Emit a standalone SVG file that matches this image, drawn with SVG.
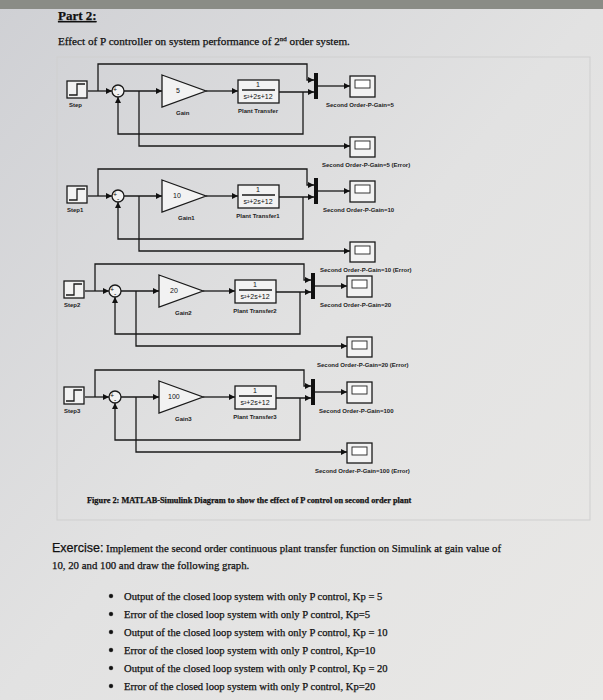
<svg xmlns="http://www.w3.org/2000/svg" width="603" height="700" viewBox="0 0 603 700">
<defs>
<linearGradient id="bg" x1="0" y1="0" x2="1" y2="1"><stop offset="0" stop-color="#cfd0d4"/><stop offset="0.5" stop-color="#e2e2e2"/><stop offset="1" stop-color="#e9e8e6"/></linearGradient>
<marker id="ar" viewBox="0 0 8 8" refX="8" refY="4" markerWidth="6" markerHeight="6" orient="auto" markerUnits="userSpaceOnUse"><path d="M0,0 L8,4 L0,8 z" fill="#111"/></marker>
<style>
.w{fill:none;stroke:#1a1a1a;stroke-width:1.3}
.a{marker-end:url(#ar)}
.blk{fill:#f2f2f2;stroke:#1a1a1a;stroke-width:1.3}
.lb{font-family:"Liberation Sans",Arial,sans-serif;font-size:6px;font-weight:bold;fill:#222}
.num{font-family:"Liberation Sans",Arial,sans-serif;font-size:7px;fill:#111}
.ser{font-family:"Liberation Serif","Times New Roman",serif;fill:#111;stroke:#111;stroke-width:0.25}
</style>
</defs>
<rect width="603" height="700" fill="url(#bg)"/>
<rect x="0" y="0" width="603" height="9" fill="#8a8c86"/>
<rect x="57" y="57" width="533" height="463" fill="none" stroke="#cfcfcf" stroke-width="1"/>
<text class="ser" x="58" y="20" font-size="13" font-weight="bold" text-decoration="underline">Part 2:</text>
<text class="ser" x="58" y="45" font-size="11.2">Effect of P controller on system performance of 2<tspan font-size="7" dy="-4">nd</tspan><tspan dy="4"> order system.</tspan></text>

<!-- Block 1 -->
<g transform="translate(0,91)">
 <g id="connectors1">
  <path class="w a" d="M88,0 H112"/>
  <path class="w a" d="M98,0 V-27 H307 V-11 H314"/>
  <path class="w a" d="M124,0 H162"/>
  <path class="w a" d="M206,0 H238"/>
  <path class="w a" d="M279,1 H314"/>
  <path class="w a" d="M303,1 V43 H118 V6"/>
  <path class="w a" d="M139,0 V55 H350"/>
  <path class="w a" d="M318,-5 H350"/>
 </g>
 <g id="step"><rect class="blk" x="67" y="-10" width="20" height="17"/><path class="w" d="M69,4 H77 V-7 H85"/><text class="lb" x="69" y="16">Step</text></g>
 <g id="sum"><circle class="blk" cx="118" cy="0" r="6"/><text class="num" x="113" y="1" font-size="6">+</text><text class="num" x="117" y="5" font-size="6">-</text></g>
 <g id="gain"><path class="blk" d="M162,-16 L206,0 L162,16 Z"/><text class="num" x="176" y="2">5</text><text class="lb" x="176" y="24">Gain</text></g>
 <g id="plant"><rect class="blk" x="238" y="-11" width="41" height="23"/><text class="num" x="258" y="-4" text-anchor="middle" font-size="6">1</text><path class="w" d="M242,-1 H275" stroke-width="0.8"/><text class="num" x="258" y="8" text-anchor="middle" font-size="6">s²+2s+12</text><text class="lb" x="258" y="22" text-anchor="middle">Plant Transfer</text></g>
 <g id="mux"><rect x="314" y="-18" width="4" height="26" fill="#111"/></g>
 <g id="scope"><rect class="blk" x="350" y="-15" width="25" height="21"/><rect x="355" y="-11" width="15" height="8" fill="#fff" stroke="#222" stroke-width="0.9"/><text class="lb" x="326" y="16">Second Order-P-Gain=5</text></g>
 <g id="scopeErr"><rect class="blk" x="350" y="46" width="25" height="20"/><rect x="355" y="50" width="15" height="8" fill="#fff" stroke="#222" stroke-width="0.9"/><text class="lb" x="322" y="76">Second Order-P-Gain=5 (Error)</text></g>
</g>

<!-- Block 2 -->
<g transform="translate(0,196)">
 <g id="connectors2">
  <path class="w a" d="M88,0 H112"/>
  <path class="w a" d="M98,0 V-27 H307 V-11 H314"/>
  <path class="w a" d="M124,0 H162"/>
  <path class="w a" d="M206,0 H238"/>
  <path class="w a" d="M279,1 H314"/>
  <path class="w a" d="M303,1 V43 H118 V6"/>
  <path class="w a" d="M139,0 V55 H350"/>
  <path class="w a" d="M318,-5 H350"/>
 </g>
 <g id="step1"><rect class="blk" x="67" y="-10" width="20" height="17"/><path class="w" d="M69,4 H77 V-7 H85"/><text class="lb" x="67" y="16">Step1</text></g>
 <g id="sum1"><circle class="blk" cx="118" cy="0" r="6"/><text class="num" x="113" y="1" font-size="6">+</text><text class="num" x="117" y="5" font-size="6">-</text></g>
 <g id="gain1"><path class="blk" d="M162,-16 L206,0 L162,16 Z"/><text class="num" x="173" y="2">10</text><text class="lb" x="178" y="24">Gain1</text></g>
 <g id="plant1"><rect class="blk" x="238" y="-11" width="41" height="23"/><text class="num" x="258" y="-4" text-anchor="middle" font-size="6">1</text><path class="w" d="M242,-1 H275" stroke-width="0.8"/><text class="num" x="258" y="8" text-anchor="middle" font-size="6">s²+2s+12</text><text class="lb" x="258" y="22" text-anchor="middle">Plant Transfer1</text></g>
 <g id="mux1"><rect x="314" y="-18" width="4" height="26" fill="#111"/></g>
 <g id="scope1"><rect class="blk" x="350" y="-15" width="25" height="21"/><rect x="355" y="-11" width="15" height="8" fill="#fff" stroke="#222" stroke-width="0.9"/><text class="lb" x="323" y="16">Second Order-P-Gain=10</text></g>
 <g id="scopeErr1"><rect class="blk" x="350" y="46" width="25" height="20"/><rect x="355" y="50" width="15" height="8" fill="#fff" stroke="#222" stroke-width="0.9"/><text class="lb" x="320" y="76">Second Order-P-Gain=10 (Error)</text></g>
</g>

<!-- Block 3 -->
<g transform="translate(-3,291)">
 <g id="connectors3">
  <path class="w a" d="M88,0 H112"/>
  <path class="w a" d="M98,0 V-27 H307 V-11 H314"/>
  <path class="w a" d="M124,0 H162"/>
  <path class="w a" d="M206,0 H238"/>
  <path class="w a" d="M279,1 H314"/>
  <path class="w a" d="M303,1 V43 H118 V6"/>
  <path class="w a" d="M139,0 V55 H350"/>
  <path class="w a" d="M318,-5 H350"/>
 </g>
 <g id="step2"><rect class="blk" x="67" y="-10" width="20" height="17"/><path class="w" d="M69,4 H77 V-7 H85"/><text class="lb" x="67" y="16">Step2</text></g>
 <g id="sum2"><circle class="blk" cx="118" cy="0" r="6"/><text class="num" x="113" y="1" font-size="6">+</text><text class="num" x="117" y="5" font-size="6">-</text></g>
 <g id="gain2"><path class="blk" d="M162,-16 L206,0 L162,16 Z"/><text class="num" x="173" y="2">20</text><text class="lb" x="178" y="24">Gain2</text></g>
 <g id="plant2"><rect class="blk" x="238" y="-11" width="41" height="23"/><text class="num" x="258" y="-4" text-anchor="middle" font-size="6">1</text><path class="w" d="M242,-1 H275" stroke-width="0.8"/><text class="num" x="258" y="8" text-anchor="middle" font-size="6">s²+2s+12</text><text class="lb" x="258" y="22" text-anchor="middle">Plant Transfer2</text></g>
 <g id="mux2"><rect x="314" y="-18" width="4" height="26" fill="#111"/></g>
 <g id="scope2"><rect class="blk" x="350" y="-15" width="25" height="21"/><rect x="355" y="-11" width="15" height="8" fill="#fff" stroke="#222" stroke-width="0.9"/><text class="lb" x="323" y="16">Second Order-P-Gain=20</text></g>
 <g id="scopeErr2"><rect class="blk" x="350" y="46" width="25" height="20"/><rect x="355" y="50" width="15" height="8" fill="#fff" stroke="#222" stroke-width="0.9"/><text class="lb" x="320" y="76">Second Order-P-Gain=20 (Error)</text></g>
</g>

<!-- Block 4 -->
<g transform="translate(-3,397)">
 <g id="connectors4">
  <path class="w a" d="M88,0 H112"/>
  <path class="w a" d="M98,0 V-27 H307 V-11 H314"/>
  <path class="w a" d="M124,0 H162"/>
  <path class="w a" d="M206,0 H238"/>
  <path class="w a" d="M279,1 H314"/>
  <path class="w a" d="M303,1 V43 H118 V6"/>
  <path class="w a" d="M139,0 V55 H350"/>
  <path class="w a" d="M318,-5 H350"/>
 </g>
 <g id="step3"><rect class="blk" x="67" y="-10" width="20" height="17"/><path class="w" d="M69,4 H77 V-7 H85"/><text class="lb" x="67" y="16">Step3</text></g>
 <g id="sum3"><circle class="blk" cx="118" cy="0" r="6"/><text class="num" x="113" y="1" font-size="6">+</text><text class="num" x="117" y="5" font-size="6">-</text></g>
 <g id="gain3"><path class="blk" d="M162,-16 L206,0 L162,16 Z"/><text class="num" x="171" y="2">100</text><text class="lb" x="178" y="24">Gain3</text></g>
 <g id="plant3"><rect class="blk" x="238" y="-11" width="41" height="23"/><text class="num" x="258" y="-4" text-anchor="middle" font-size="6">1</text><path class="w" d="M242,-1 H275" stroke-width="0.8"/><text class="num" x="258" y="8" text-anchor="middle" font-size="6">s²+2s+12</text><text class="lb" x="258" y="22" text-anchor="middle">Plant Transfer3</text></g>
 <g id="mux3"><rect x="314" y="-18" width="4" height="26" fill="#111"/></g>
 <g id="scope3"><rect class="blk" x="350" y="-15" width="25" height="21"/><rect x="355" y="-11" width="15" height="8" fill="#fff" stroke="#222" stroke-width="0.9"/><text class="lb" x="322" y="16">Second Order-P-Gain=100</text></g>
 <g id="scopeErr3"><rect class="blk" x="350" y="46" width="25" height="20"/><rect x="355" y="50" width="15" height="8" fill="#fff" stroke="#222" stroke-width="0.9"/><text class="lb" x="318" y="76">Second Order-P-Gain=100 (Error)</text></g>
</g>

<text class="ser" x="87" y="503" font-size="8.3" font-weight="bold">Figure 2: MATLAB-Simulink Diagram to show the effect of P control on second order plant</text>
<text class="ser" x="52" y="552" font-size="10.8"><tspan font-family="Liberation Sans, Arial, sans-serif" font-size="12.5">Exercise:</tspan> Implement the second order continuous plant transfer function on Simulink at gain value of</text>
<text class="ser" x="52" y="569" font-size="10.8">10, 20 and 100 and draw the following graph.</text>
<g class="ser" font-size="10.6">
<circle cx="111" cy="596" r="2"/><text x="124" y="600">Output of the closed loop system with only P control, Kp = 5</text>
<circle cx="111" cy="614" r="2"/><text x="124" y="618">Error of the closed loop system with only P control, Kp=5</text>
<circle cx="111" cy="632" r="2"/><text x="124" y="636">Output of the closed loop system with only P control, Kp = 10</text>
<circle cx="111" cy="650" r="2"/><text x="124" y="654">Error of the closed loop system with only P control, Kp=10</text>
<circle cx="111" cy="668" r="2"/><text x="124" y="672">Output of the closed loop system with only P control, Kp = 20</text>
<circle cx="111" cy="686" r="2"/><text x="124" y="690">Error of the closed loop system with only P control, Kp=20</text>
</g>
</svg>
